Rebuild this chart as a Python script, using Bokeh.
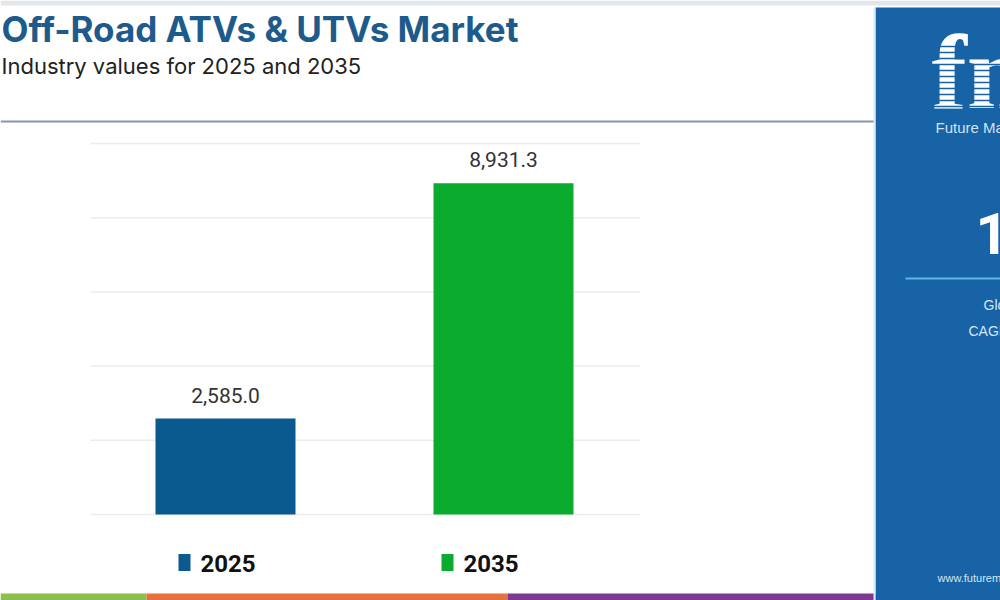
from bokeh.plotting import figure
from bokeh.models import Range1d, ColumnDataSource, LabelSet
from bokeh.core.properties import value
from bokeh.embed import file_html
from bokeh.resources import INLINE

# ---- data ----
title = "Off-Road ATVs & UTVs Market"
subtitle = "Industry values for 2025 and 2035"
years = ["2025", "2035"]
values = [2585.0, 8931.3]
bar_colors = ["#0b5a8f", "#0aab2f"]
grid_ticks = [0, 2000, 4000, 6000, 8000, 10000]

# ---- layout helpers ----
PX_PER_CAT = 278.0
X0_PX = 225.0
x_start = 0.5 - X0_PX / PX_PER_CAT
x_end = x_start + 1000.0 / PX_PER_CAT
K = 0.0371  # px per unit
BASE = 514.0
y_start = -(600.0 - BASE) / K
y_end = BASE / K

p = figure(width=1000, height=600, x_range=Range1d(x_start, x_end),
           y_range=Range1d(y_start, y_end), output_backend="svg",
           toolbar_location=None, x_axis_location=None, y_axis_location=None,
           min_border=0)
p.outline_line_color = None
p.background_fill_color = "white"
p.border_fill_color = "white"
p.xgrid.visible = False
p.ygrid.visible = False
p.extra_x_ranges = {"px": Range1d(0, 1000)}
p.extra_y_ranges = {"py": Range1d(600, 0)}

def q(**kw):
    kw.setdefault("x_range_name", "px")
    kw.setdefault("y_range_name", "py")
    return kw

# top gray band
p.quad(**q(left=[0], right=[1000], top=[0], bottom=[5], fill_color="#e4e7ea", line_color=None))

# title & subtitle
p.text(**q(x=[1], y=[28], text=[title], text_font=value("Inter"), text_font_style="bold",
       text_font_size="35px", text_color="#1d5b8c", text_align="left", text_baseline="middle"))
p.text(**q(x=[1], y=[65], text=[subtitle], text_font=value("Inter"),
       text_font_size="22px", text_color="#222222", text_align="left", text_baseline="middle"))

# separator
p.segment(**q(x0=[0], x1=[875], y0=[121], y1=[121], line_color="#8598ab", line_width=2))

# gridlines
p.segment(x0=[90] * len(grid_ticks), x1=[640] * len(grid_ticks), y0=grid_ticks, y1=grid_ticks,
          x_range_name="px", line_color="#ececec", line_width=1.5)

# bars
xc = [i + 0.5 for i in range(len(years))]
src = ColumnDataSource(dict(x=xc, top=values, color=bar_colors,
                            label=["{:,.1f}".format(v) for v in values]))
p.vbar(x="x", top="top", bottom=0, width=140.0 / PX_PER_CAT, fill_color="color",
       line_color=None, source=src)
p.add_layout(LabelSet(x="x", y="top", text="label", source=src, y_offset=16,
                      text_align="center", text_baseline="alphabetic",
                      text_font=value("Roboto"), text_font_size="21px", text_color="#333333"))

# legend
leg_x = [184, 447]
p.rect(**q(x=leg_x, y=[562, 562], width=12, height=17, fill_color=bar_colors, line_color=None))
p.text(**q(x=[x + 16 for x in leg_x], y=[563, 563], text=years, text_font=value("Roboto"),
       text_font_style="bold", text_font_size="24px", text_color="#111111",
       text_align="left", text_baseline="middle"))

# bottom color bar
p.quad(**q(left=[0, 146, 507], right=[146, 507, 875], top=[593, 593, 593], bottom=[600, 600, 600],
       fill_color=["#8cc04a", "#e8703d", "#7e3a92"], line_color=None))

# right panel
p.quad(**q(left=[875], right=[1000], top=[7], bottom=[600], fill_color="#1763a6", line_color=None))
p.segment(**q(x0=[874], x1=[874], y0=[7], y1=[600], line_color="#d9ecf8", line_width=2))
p.text(**q(x=[931], y=[72], text=["fmi"], text_font=value("Liberation Serif"), text_font_style="bold",
       text_font_size="106px", text_color="white", text_align="left", text_baseline="middle"))
stripe_y = [46 + 6 * i for i in range(11)]
p.segment(**q(x0=[925] * len(stripe_y), x1=[1000] * len(stripe_y), y0=stripe_y, y1=stripe_y,
          line_color="#1763a6", line_width=1.5))
p.text(**q(x=[935], y=[127], text=["Future Market Insights"], text_font=value("Liberation Sans"),
       text_font_size="15px", text_color="#cfe2f3", text_align="left", text_baseline="middle"))
p.text(**q(x=[975], y=[233], text=["1"], text_font=value("Roboto"), text_font_style="bold",
       text_font_size="58px", text_color="white", text_align="left", text_baseline="middle"))
p.segment(**q(x0=[905], x1=[1000], y0=[278], y1=[278], line_color="#62b3e8", line_width=2))
p.text(**q(x=[983], y=[304], text=["Global"], text_font=value("Liberation Sans"),
       text_font_size="14px", text_color="#d5e6f4", text_align="left", text_baseline="middle"))
p.text(**q(x=[968], y=[330], text=["CAGR"], text_font=value("Liberation Sans"),
       text_font_size="14px", text_color="#d5e6f4", text_align="left", text_baseline="middle"))
p.text(**q(x=[937], y=[577], text=["www.futuremarketinsights.com"], text_font=value("Liberation Sans"),
       text_font_size="11px", text_color="#d5e6f4", text_align="left", text_baseline="middle"))

open("out.html", "w").write(file_html(p, INLINE))
